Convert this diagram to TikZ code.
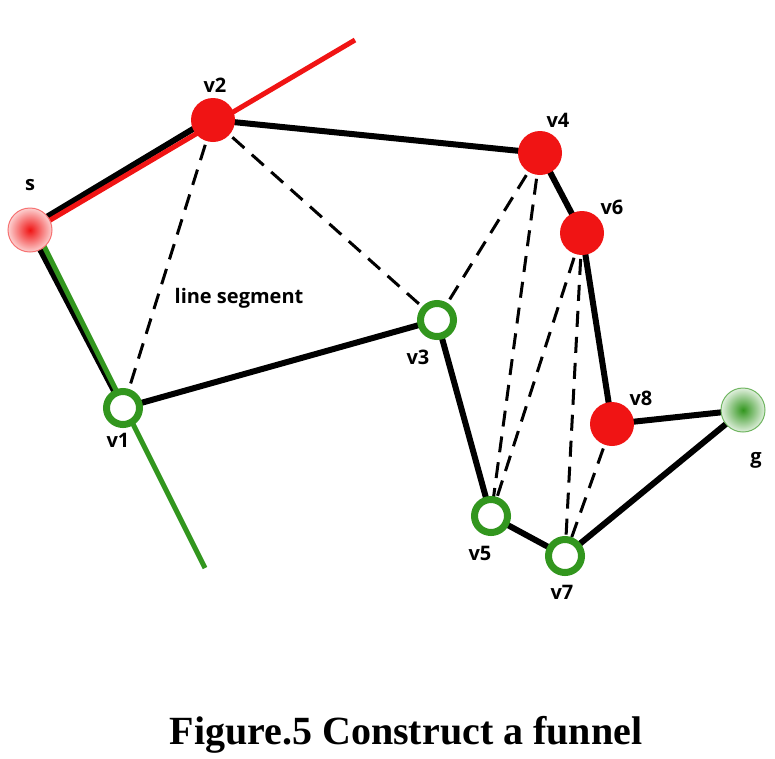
\documentclass[tikz,border=0pt]{standalone}
\usepackage{fontspec}
\setmainfont{Liberation Serif}
\newfontfamily\lblfont{Open Sans}
\usetikzlibrary{positioning}
\definecolor{vred}{RGB}{240,20,20}
\definecolor{vgreen}{RGB}{50,150,30}
\tikzset{
  red vertex/.style={circle,fill=vred,minimum size=44pt,inner sep=0pt},
  green vertex/.style={circle,draw=vgreen,line width=7pt,fill=white,minimum size=33pt,inner sep=0pt},
  start vertex/.style={circle,draw=vred!60,line width=1pt,inner color=vred,outer color=vred!20,minimum size=44pt},
  goal vertex/.style={circle,draw=vgreen!70,line width=1pt,inner color=vgreen,outer color=vgreen!15,minimum size=44pt},
  edge/.style={line width=6pt,black},
  chord/.style={line width=3pt,black,dash pattern=on 16pt off 10pt},
  lbl/.style={font=\lblfont\bfseries\fontsize{20}{20}\selectfont}
}
\begin{document}
\begin{tikzpicture}[x=1pt,y=-1pt]
  \useasboundingbox (0,0) rectangle (775,758);
  % vertex positions
  \coordinate (s) at (30,230);
  \coordinate (g) at (743,410);
  \coordinate (v2) at (213,120);
  \coordinate (v4) at (540,153);
  \coordinate (v6) at (582,233);
  \coordinate (v8) at (612,424);
  \coordinate (v1) at (123,408);
  \coordinate (v3) at (437,320);
  \coordinate (v5) at (491,516);
  \coordinate (v7) at (565,556);
  \coordinate (redend) at (355,40);
  \coordinate (greenend) at (205,568);
  % funnel sides
  \draw[edge] ([yshift=3pt]s) -- ([yshift=3pt]v2);
  \draw[line width=5pt,vred] ([yshift=-2pt]s) -- (redend);
  \draw[edge] (s) -- (v1);
  \draw[line width=5pt,vgreen] ([xshift=6pt]s) -- (greenend);
  \draw[edge] (v2) -- (v4) -- (v6) -- (v8) -- (g);
  \draw[edge] (v1) -- (v3) -- (v5) -- (v7) -- (g);
  \foreach \a/\b in {v2/v1,v2/v3,v4/v3,v4/v5,v6/v5,v6/v7,v8/v7}
    \draw[chord] (\a) -- (\b);
  % vertices
  \node[start vertex] (ns) at (s) {};
  \node[goal vertex] (ng) at (g) {};
  \foreach \v in {v2,v4,v6,v8}
    \node[red vertex] (n\v) at (\v) {};
  \foreach \v in {v1,v3,v5,v7}
    \node[green vertex] (n\v) at (\v) {};
  % labels
  \node[lbl] (ls) at (30,185) {s};
  \node[lbl] (l2) at (215,85) {v2};
  \node[lbl] (l4) at (558,120) {v4};
  \node[lbl] (l6) at (612,207) {v6};
  \node[lbl] (l8) at (641,398) {v8};
  \node[lbl] (lg) at (756,460) {g};
  \node[lbl] (l1) at (118,440) {v1};
  \node[lbl] (l3) at (418,357) {v3};
  \node[lbl] (l5) at (480,553) {v5};
  \node[lbl] (l7) at (562,592) {v7};
  \node[lbl] (seg) at (239,298) {line segment};
  \node[font=\bfseries\fontsize{40}{40}\selectfont] (cap) at (406,735) {Figure.5 Construct a funnel};
\end{tikzpicture}
\end{document}
